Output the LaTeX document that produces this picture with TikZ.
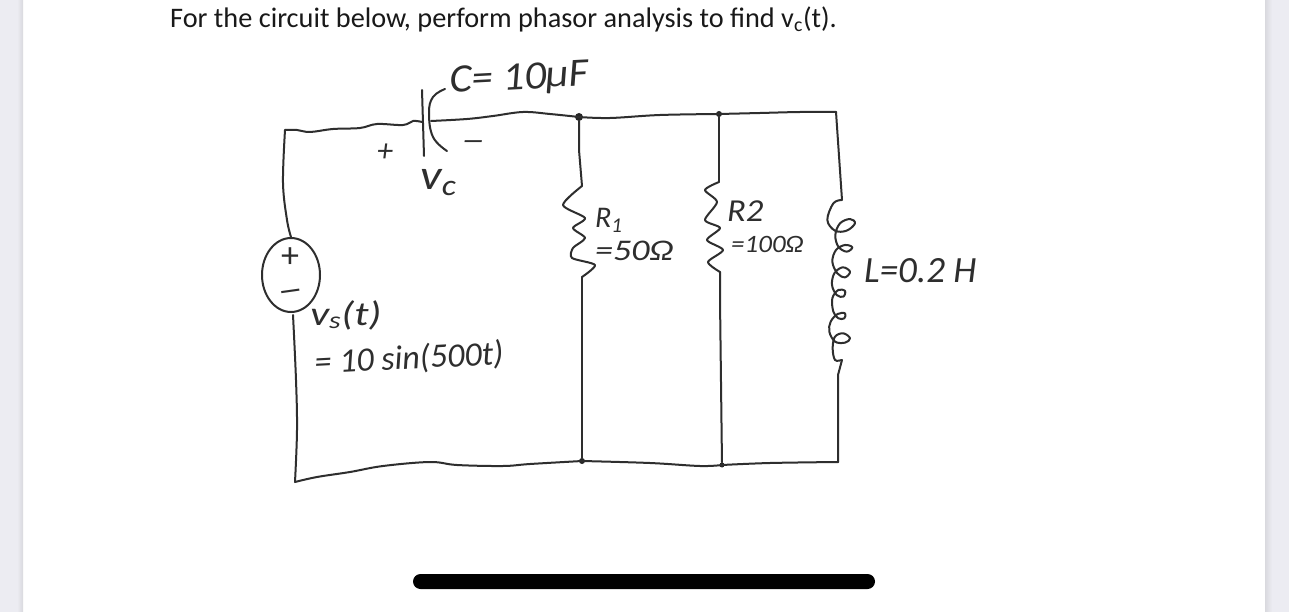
\documentclass[tikz,border=0pt]{standalone}
\usepackage{fontspec}
\setmainfont{Carlito}
\usetikzlibrary{calc,shapes.geometric}
\definecolor{ink}{HTML}{2E2E2E}
\definecolor{band}{HTML}{ECECF2}
\definecolor{bandedge}{HTML}{D9D9DE}
\tikzset{
  wire/.style={draw=ink,line width=2pt,line cap=round,line join=round},
  jdot/.style={circle,fill=black!85,inner sep=0pt,minimum size=8pt},
  hand/.style={text=ink,inner sep=0pt,font=\itshape\fontsize{#1}{#1}\selectfont},
  hand/.default=30
}
\begin{document}
\begin{tikzpicture}[x=1pt,y=-1pt]
\useasboundingbox (0,0) rectangle (1289,612);
% page background
\fill[white] (0,0) rectangle (1289,612);
\fill[band] (0,0) rectangle (23,612);
\fill[band] (1265,0) rectangle (1289,612);
\shade[left color=band,right color=bandedge,draw=none] (17,0) rectangle (23,612);
\shade[left color=bandedge,right color=band,draw=none] (1265,0) rectangle (1272,612);
% title
\node[anchor=base west,inner sep=0pt,text=black!90,font=\fontsize{28.3}{30}\selectfont] (title) at (170,28) {For the circuit below, perform phasor analysis to find v\textsubscript{c}(t).};
% black bar
\fill[black,rounded corners=7.5pt] (413,574) rectangle (875,589);
% junctions and corners
\coordinate (tl) at (285,130);
\coordinate (cl) at (422,122);
\coordinate (cr) at (431,121);
\node[jdot] (j1) at (579,117) {};
\node[jdot,minimum size=6pt] (j2) at (719,114) {};
\coordinate (tr) at (836,112);
\coordinate (bl) at (295,482);
\node[jdot,minimum size=6pt] (b1) at (582,461) {};
\node[jdot,minimum size=5pt] (b2) at (722,465) {};
\coordinate (br) at (838,462);
\coordinate (r1a) at (582,186);
\coordinate (r1b) at (582,277);
\coordinate (r2a) at (719,182);
\coordinate (r2b) at (720,272);
\coordinate (la) at (842,200);
\coordinate (lb) at (842,360);
% source
\node[draw=ink,line width=2pt,ellipse,minimum width=58pt,minimum height=74pt,inner sep=0pt] (vs) at (291,275) {};
\node[text=ink,inner sep=0pt,font=\fontsize{36}{36}\selectfont] (vsp) at (290,258) {+};
\node[text=ink,inner sep=0pt,rotate=8,xscale=1.5,font=\fontsize{34}{34}\selectfont] (vsm) at (291,296) {–};
% wires
\draw[wire] plot[smooth,tension=0.6] coordinates {(tl) (297,130) (310,132) (333,129) (360,128) (377,124) (403,125) (413,121) (cl)};
\draw[wire] plot[smooth,tension=0.6] coordinates {(cr) (467,119) (493,116) (523,112) (550,114) (j1)};
\draw[wire] plot[smooth,tension=0.6] coordinates {(j1) (610,118) (660,115) (j2)};
\draw[wire] plot[smooth,tension=0.6] coordinates {(j2) (760,113) (800,112) (tr)};
\draw[wire] plot[smooth,tension=0.6] coordinates {(tl) (283,183) (287,220) (vs.north)};
\draw[wire] plot[smooth,tension=0.6] coordinates {(293,315) (296,380) (297,430) (bl)};
\draw[wire] plot[smooth,tension=0.6] coordinates {(bl) (317,477) (350,472) (383,466) (430,462) (457,465) (503,466) (530,464) (b1)};
\draw[wire] plot[smooth,tension=0.6] coordinates {(b1) (650,463) (700,466) (b2)};
\draw[wire] plot[smooth,tension=0.6] coordinates {(b2) (770,463) (br)};
\draw[wire] (j1) -- (579,150) -- (r1a);
\draw[wire] (r1b) -- (582,290) -- (b1);
\draw[wire] (j2) -- (r2a);
\draw[wire] (r2b) -- (720,300) -- (b2);
\draw[wire] (tr) -- (la);
\draw[wire] (lb) -- (838,375) -- (br);
% capacitor
\draw[wire] (422,90) -- (424,156);
\draw[wire] plot[smooth,tension=0.7] coordinates {(445,89) (433,97) (429,113) (433,137) (447,151)};
% R1
\draw[wire] plot[smooth,tension=0.45] coordinates {(r1a) (563,205) (585,218) (573,228) (585,238) (573,248) (572,258) (595,265) (r1b)};
% R2
\draw[wire] plot[smooth,tension=0.45] coordinates {(r2a) (705,190) (717,202) (705,220) (720,228) (707,240) (723,250) (708,262) (r2b)};
% L
\begin{scope}[shift={(800,190)},scale=0.3333]
\draw[wire] plot[smooth,tension=0.6] coordinates {(125,30) (100,40) (82,90) (105,122) (140,122) (165,100) (150,87) (120,100) (106,135) (115,170) (140,185) (157,172) (135,165) (108,180) (97,215) (112,250) (135,262) (150,245) (128,232) (103,250) (96,285) (110,315) (130,320) (135,303) (115,300) (97,325) (100,365) (115,385) (133,385) (135,370) (113,372) (92,395) (88,425) (105,455) (135,458) (150,445) (130,430) (105,440) (98,475) (105,510) (125,510)};
\end{scope}
% labels
\node[hand=40,anchor=base west,rotate=3,xscale=1.07] (clab) at (450,93) {C= 10µF};
\node[hand=32] (plus) at (385,153) {+};
\node[hand=32,xscale=1.5] (minus) at (473,146) {–};
\node[hand=42,anchor=base west,xscale=1.15] (vc) at (420,190) {v\textsubscript{c}};
\node[hand=30,anchor=base west] (rone) at (595,228) {R\textsubscript{1}};
\node[hand=30,anchor=base west,xscale=1.2] (rone2) at (595,261) {=50Ω};
\node[hand=32,anchor=base west,xscale=1.08] (rtwo) at (727,222) {R2};
\node[hand=25,anchor=base west,xscale=1.08] (rtwo2) at (731,252) {=100Ω};
\node[hand=37,anchor=base west] (llab) at (864,282) {L=0.2 H};
\node[hand=34,anchor=base west,xscale=1.25] (vsl) at (310,325) {v\textsubscript{s}(t)};
\node[hand=34,anchor=base west,rotate=3] (vsl2) at (315,374) {= 10 sin(500t)};
\end{tikzpicture}
\end{document}
